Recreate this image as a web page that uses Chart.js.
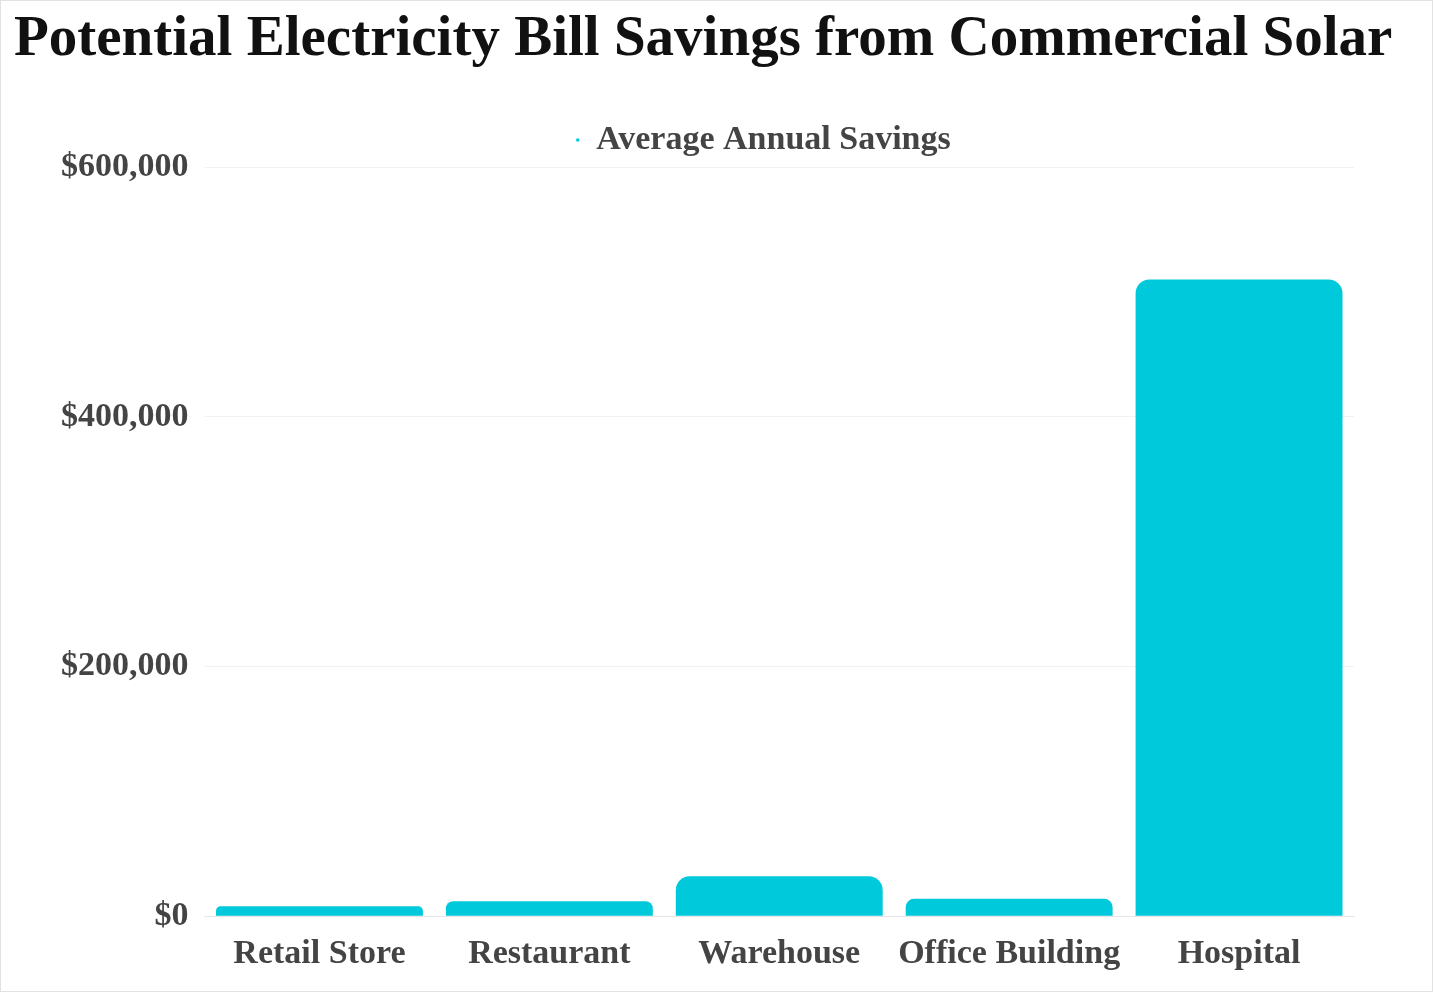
<!DOCTYPE html>
<html>
<head>
<meta charset="utf-8">
<script src="https://cdn.jsdelivr.net/npm/chart.js@4"></script>
<style>
  html, body { margin: 0; padding: 0; background: #fff; }
  .page {
    position: relative;
    width: 1431px;
    height: 990px;
    border: 1px solid #e2e2e2;
    overflow: hidden;
  }
  h1 {
    position: absolute;
    left: 13px;
    top: 0px;
    margin: 0;
    font-family: "Liberation Serif", serif;
    font-weight: bold;
    font-size: 57px;
    line-height: 70px;
    color: #111;
    white-space: nowrap;
  }
  .wrap {
    position: absolute;
    left: 0;
    top: 88px;
    width: 1431px;
    height: 900px;
  }
</style>
</head>
<body>
<div class="page">
  <h1>Potential Electricity Bill Savings from Commercial Solar</h1>
  <div class="wrap"><canvas id="grafica"></canvas></div>
</div>
<script>
const categories = ['Retail Store', 'Restaurant', 'Warehouse', 'Office Building', 'Hospital'];
const savings = [8000, 12000, 32000, 14000, 510000];
const seriesName = 'Average Annual Savings';

const serif = '"Liberation Serif", "Times New Roman", serif';
const textColor = '#444';

// nudge the legend so it sits over the plot instead of the whole canvas
const legendShift = {
  id: 'legendShift',
  afterLayout(chart) {
    const lg = chart.legend;
    if (lg) { lg.left += 64; lg.right += 64; }
  }
};

const ctx = document.getElementById('grafica').getContext('2d');
const chart = new Chart(ctx, {
  type: 'bar',
  data: {
    labels: categories,
    datasets: [{
      label: seriesName,
      data: savings,
      backgroundColor: '#00c9dc',
      borderRadius: 14,
      barPercentage: 0.9,
      categoryPercentage: 1
    }]
  },
  plugins: [legendShift],
  options: {
    responsive: true,
    maintainAspectRatio: false,
    animation: false,
    layout: { padding: { left: 44, right: 78, top: 20, bottom: 4 } },
    plugins: {
      legend: {
        position: 'top',
        labels: {
          boxWidth: 3,
          boxHeight: 3,
          padding: 14,
          color: textColor,
          font: { family: serif, size: 34, weight: 'bold' }
        }
      },
      tooltip: { enabled: false }
    },
    scales: {
      x: {
        grid: { display: false },
        border: { display: true, color: '#e6e6e6' },
        ticks: {
          color: textColor,
          padding: 10,
          autoSkip: false,
          minRotation: 0,
          maxRotation: 0,
          font: { family: serif, size: 34, weight: 'bold' }
        }
      },
      y: {
        min: 0,
        max: 600000,
        grid: { color: '#f1f1f1', drawTicks: false },
        border: { display: false },
        ticks: {
          stepSize: 200000,
          padding: 16,
          color: textColor,
          font: { family: serif, size: 34, weight: 'bold' },
          callback: v => '$' + v.toLocaleString('en-US')
        }
      }
    }
  }
});
</script>
</body>
</html>
